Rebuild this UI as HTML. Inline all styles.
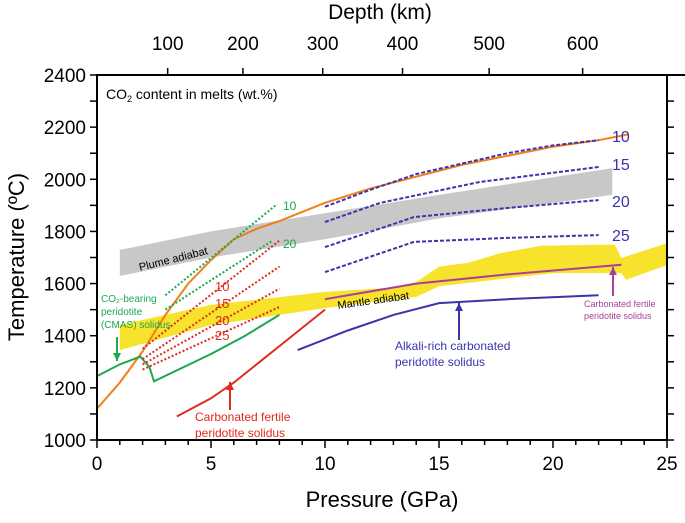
<!DOCTYPE html>
<html><head><meta charset="utf-8"><style>
body{margin:0;background:#fff}
svg{font-family:"Liberation Sans",Arial,sans-serif}
</style></head><body>
<svg id="c" width="685" height="518"></svg>
<script>
const xTicks=[0,5,10,15,20,25];
const yTicks=[1000,1200,1400,1600,1800,2000,2200,2400];
const depthTicks=[100,200,300,400,500,600];
const depthPos=[3.1,6.4,9.9,13.4,17.2,21.3];
const orange=[[0,1120],[1,1220],[2,1340],[3,1480],[4,1600],[5,1690],[6,1770],[7,1810],[8,1840],[10,1910],[12,1965],[14,2010],[16,2055],[18,2090],[20,2125],[22,2150],[23.3,2172]];
const blue10=[[10,1895],[12,1960],[14,2020],[16,2060],[18,2100],[20,2130],[22,2150]];
const blue15=[[10,1836],[12.4,1909],[16.8,1990],[22,2047]];
const blue20=[[10,1740],[13.9,1855],[18,1890],[22,1920]];
const blue25=[[10,1644],[13.9,1760],[18,1775],[22,1786]];
const plumeTop=[[1,1729],[5,1800],[10,1870],[15,1940],[22.6,2043]];
const plumeBot=[[1,1629],[5,1700],[10,1770],[15,1850],[22.6,1940]];
const mantleTop=[[1,1441],[5,1518],[10,1568],[13,1585],[14,1606],[15,1665],[16.3,1680],[17.7,1717],[19.5,1745],[22.7,1750],[23,1698],[25,1755]];
const mantleBot=[[25,1671],[23.2,1614],[23,1640],[20,1640],[15,1590],[14,1549],[10,1506],[5,1441],[1,1345]];
const purple=[[10,1540],[14,1600],[18,1635],[23,1672]];
const alkali=[[8.8,1345],[11,1420],[13,1480],[15,1525],[18,1540],[22,1555]];
const redSol=[[3.5,1090],[5,1160],[6,1220],[8,1360],[10,1500]];
const greenSol=[[0,1245],[1,1290],[1.9,1320],[2.3,1280],[2.5,1225],[5,1330],[6.5,1400],[8,1480]];
const green10=[[3,1555],[7.9,1905]];
const green20=[[3,1500],[7.7,1765]];
const red10=[[2,1350],[8,1765]];
const red15=[[2,1310],[8,1665]];
const red20=[[2,1290],[8,1580]];
const red25=[[2,1270],[8,1510]];
const X=p=>97+p*22.8, Y=t=>440-(t-1000)*365/1400;
const s=document.getElementById('c'),NS='http://www.w3.org/2000/svg';
function el(tag,a,txt){const e=document.createElementNS(NS,tag);for(const k in a)e.setAttribute(k,a[k]);if(txt!==undefined)e.textContent=txt;s.appendChild(e);return e;}
const pts=a=>a.map(p=>X(p[0]).toFixed(1)+','+Y(p[1]).toFixed(1)).join(' ');
let e;
e=el('polygon',{points:pts(plumeTop.concat(plumeBot.slice().reverse())),fill:'#c8c8c8'});

e=el('polygon',{points:pts(mantleTop.concat(mantleBot)),fill:'#f7e22c'});

function line(a,c,w,d,name){e=el('polyline',{points:pts(a),fill:'none',stroke:c,'stroke-width':w,'stroke-dasharray':d||'none'});
}
line(orange,'#f07f1c',2,null,'melting-curve');
[[blue10,'blue-10'],[blue15,'blue-15'],[blue20,'blue-20'],[blue25,'blue-25']].forEach(b=>line(b[0],'#3a35a8',2,'4,2',b[1]+'-co2-line'));
line(purple,'#a8409a',2,null,'carbonated-fertile-solidus-high');
line(alkali,'#3a35a8',2,null,'alkali-rich-solidus');
line(redSol,'#e02a1e',2,null,'carbonated-fertile-solidus');
line(greenSol,'#1ea650',2,null,'cmas-solidus');
line(green10,'#1ea650',2,'2,2','green-10-co2-line');line(green20,'#1ea650',2,'2,2','green-20-co2-line');
[red10,red15,red20,red25].forEach((r,i)=>line(r,'#e02a1e',2,'2,2','red-co2-line-'+i));
e=el('rect',{x:97,y:75,width:570,height:365,fill:'none',stroke:'#000','stroke-width':2});

for(let t=1000;t<=2400;t+=100){el('line',{x1:90,x2:97,y1:Y(t),y2:Y(t),stroke:'#000','stroke-width':1.5});el('line',{x1:667,x2:674,y1:Y(t),y2:Y(t),stroke:'#000','stroke-width':1.5});}
yTicks.forEach(t=>{e=el('text',{x:86,y:Y(t)+7,'text-anchor':'end','font-size':19},t);});
for(let p=0;p<=25;p++){const len=p%5==0?8:5;el('line',{x1:X(p),x2:X(p),y1:440,y2:440+len,stroke:'#000','stroke-width':1.5});}
xTicks.forEach(p=>{e=el('text',{x:X(p),y:470,'text-anchor':'middle','font-size':19},p);});
depthTicks.forEach((d,i)=>{const x=X(depthPos[i]);el('line',{x1:x,x2:x,y1:68,y2:75,stroke:'#000','stroke-width':1.5});
e=el('text',{x:x,y:50,'text-anchor':'middle','font-size':19},d);});
el('line',{x1:97,x2:685,y1:75,y2:75,stroke:'#000','stroke-width':2});
e=el('text',{x:380,y:19,'text-anchor':'middle','font-size':21},'Depth (km)');
e=el('text',{x:382,y:507,'text-anchor':'middle','font-size':22},'Pressure (GPa)');
e=el('text',{x:0,y:0,'text-anchor':'middle','font-size':22,transform:'translate(24,257) rotate(-90)'},'Temperature (ºC)');
function t(x,y,txt,c,fs,name,anch,rot){const a={x:x,y:y,fill:c,'font-size':fs};if(anch)a['text-anchor']=anch;if(rot)a.transform='rotate('+rot+' '+x+' '+y+')';e=el('text',a,txt);return e;}
e=el('text',{x:106,y:99,'font-size':14});e.innerHTML='CO<tspan font-size="9" dy="3">2</tspan><tspan dy="-3"> content in melts (wt.%)</tspan>';

t(612,142,'10','#3a35a8',16,'label-blue-10');t(612,170,'15','#3a35a8',16,'label-blue-15');t(612,207,'20','#3a35a8',16,'label-blue-20');t(612,241,'25','#3a35a8',16,'label-blue-25');
t(283,210,'10','#1ea650',12,'label-green-10');t(283,248,'20','#1ea650',12,'label-green-20');
t(215,291,'10','#e02a1e',13,'label-red-10');t(215,308,'15','#e02a1e',13,'label-red-15');t(215,325,'20','#e02a1e',13,'label-red-20');t(215,340,'25','#e02a1e',13,'label-red-25');
t(140,271,'Plume adiabat','#000',11,'plume-adiabat-label',null,-14);
t(338,309,'Mantle adiabat','#000',11,'mantle-adiabat-label',null,-8);
t(101,302,'CO\u2082-bearing','#1ea650',10,'cmas-label-1');t(101,315,'peridotite','#1ea650',10,'cmas-label-2');t(101,328,'(CMAS) solidus','#1ea650',10,'cmas-label-3');
t(195,421,'Carbonated fertile','#e02a1e',12,'red-label-1');t(195,437,'peridotite solidus','#e02a1e',12,'red-label-2');
t(395,350,'Alkali-rich carbonated','#3a35a8',12,'alkali-label-1');t(395,366,'peridotite solidus','#3a35a8',12,'alkali-label-2');
t(584,307,'Carbonated fertile','#a8409a',9,'purple-label-1');t(584,319,'peridotite solidus','#a8409a',9,'purple-label-2');
function arrow(x,y1,y2,c,up,name){el('line',{x1:x,x2:x,y1:y1,y2:y2,stroke:c,'stroke-width':2});
const hy=up?y1:y2,d=up?8:-8;e=el('polygon',{points:`${x-4},${hy+d} ${x+4},${hy+d} ${x},${hy}`,fill:c});}
arrow(117,337,361,'#1ea650',false,'cmas-arrow');arrow(230,382,410,'#e02a1e',true,'red-arrow');arrow(459,303,340,'#3a35a8',true,'alkali-arrow');arrow(613,267,296,'#a8409a',true,'purple-arrow');
</script>
</body></html>
